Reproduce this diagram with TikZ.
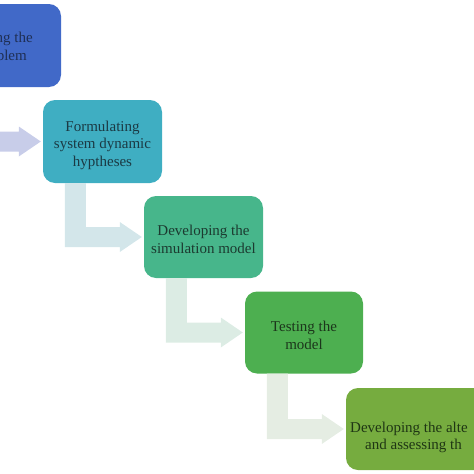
\documentclass[tikz,border=0pt]{standalone}
\usepackage{fontspec}
\setmainfont{Liberation Serif}
\usetikzlibrary{calc}
\definecolor{c1}{HTML}{4169C8}
\definecolor{c2}{HTML}{3FAEC2}
\definecolor{c3}{HTML}{47B68B}
\definecolor{c4}{HTML}{4DAF50}
\definecolor{c5}{HTML}{76AC3F}
\definecolor{t1}{HTML}{1F2F55}
\definecolor{t2}{HTML}{1B3A44}
\definecolor{t3}{HTML}{1C3A30}
\definecolor{t4}{HTML}{1C361B}
\definecolor{t5}{HTML}{1F3614}
\definecolor{a1}{HTML}{C8CDE9}
\definecolor{a2}{HTML}{D3E6EA}
\definecolor{a3}{HTML}{DCECE4}
\definecolor{a4}{HTML}{E5EDE3}
\newcommand\Larrow[3]{%
  \fill[#3] ($(#1.south west)+(22,0)$) -- ($(#1.south west)+(43,0)$)
    |- ($(#2.west)+(-24,-10)$) -- ++(0,-5) -- ($(#2.west)+(-2,0)$)
    -- ($(#2.west)+(-24,15)$) -- ++(0,-5) -| ($(#1.south west)+(22,0)$) -- cycle;}
\begin{document}
\begin{tikzpicture}[x=1pt,y=-1pt,
  box/.style={rounded corners=12pt, minimum width=119pt, minimum height=82pt, inner sep=0pt},
  txt/.style={inner sep=0pt, align=center, font=\fontsize{15}{17.5}\selectfont},
  frag/.style={inner sep=0pt, font=\fontsize{15}{17.5}\selectfont}]
\useasboundingbox (0,0) rectangle (474,474);
\node[box, fill=c1, minimum height=83pt] (b1) at (1.5,45.5) {};
\node[box, fill=c2, minimum height=83pt] (b2) at (102.5,141.5) {};
\node[box, fill=c3] (b3) at (203.5,237) {};
\node[box, fill=c4, minimum width=118pt] (b4) at (304,332.5) {};
\node[box, fill=c5, minimum width=190pt] (b5) at (441,429) {};
\node[txt, text=t2] (b2t) at ($(b2.center)+(0,3.5)$) {Formulating\\system dynamic\\hyptheses};
\node[txt, text=t3] (b3t) at ($(b3.center)+(0,2.5)$) {Developing the\\simulation model};
\node[txt, text=t4] (b4t) at ($(b4.center)+(0,3)$) {Testing the\\model};
\node[frag, text=t1, anchor=base east] (l1a) at (33,42.5) {ng the};
\node[frag, text=t1, anchor=base east] (l1b) at (27,60) {blem};
\node[frag, text=t5, anchor=base west] (l5a) at (350,432.5) {Developing the alte};
\node[frag, text=t5, anchor=base west] (l5b) at (365,449) {and assessing th};
\Larrow{b1}{b2}{a1}
\Larrow{b2}{b3}{a2}
\Larrow{b3}{b4}{a3}
\Larrow{b4}{b5}{a4}
\end{tikzpicture}
\end{document}
